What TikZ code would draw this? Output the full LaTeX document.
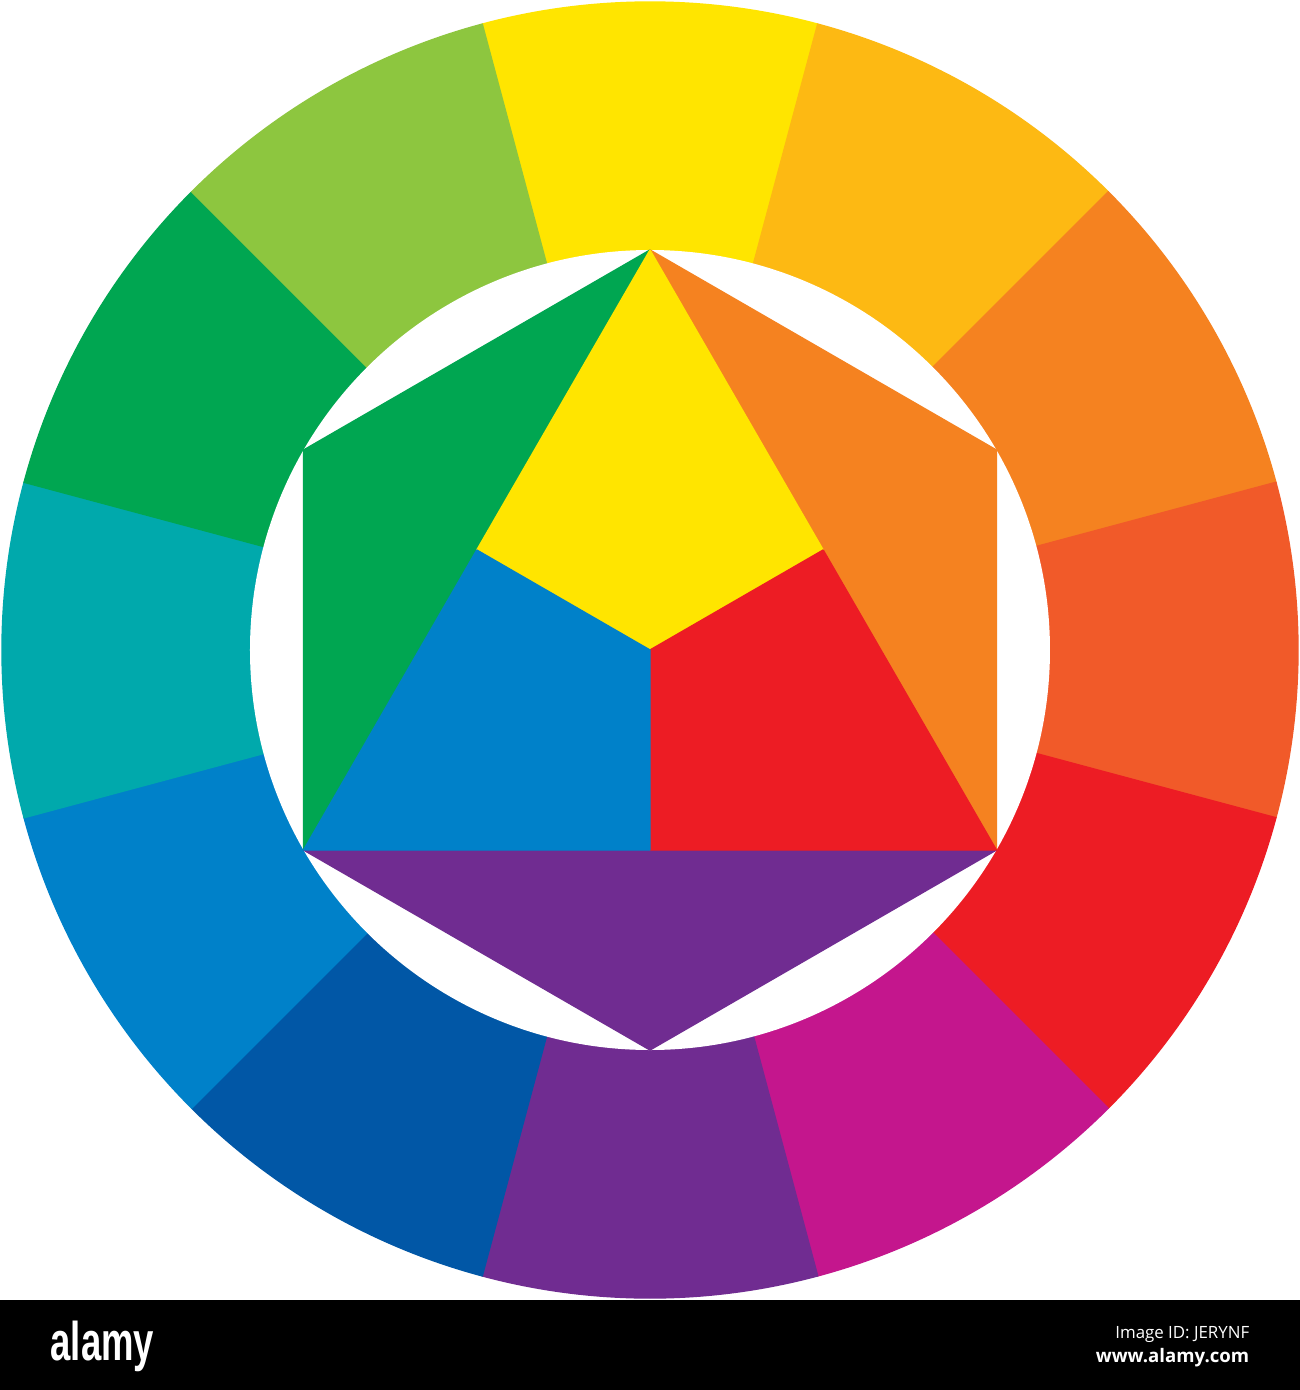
\documentclass[tikz,border=0pt]{standalone}
\usepackage{fontspec}
\setsansfont{Open Sans}
\newfontfamily\logofont{Liberation Sans}
\usepackage{xcolor}
\usetikzlibrary{calc}

\definecolor{cyel}{HTML}{FFE500}
\definecolor{cyelor}{HTML}{FDB913}
\definecolor{cora}{HTML}{F58220}
\definecolor{credor}{HTML}{F15A29}
\definecolor{cred}{HTML}{ED1C24}
\definecolor{credvi}{HTML}{C4168D}
\definecolor{cvio}{HTML}{702C91}
\definecolor{cbluvi}{HTML}{0157A6}
\definecolor{cblu}{HTML}{0081C9}
\definecolor{cblugr}{HTML}{00A9AC}
\definecolor{cgre}{HTML}{00A651}
\definecolor{cyelgr}{HTML}{8DC63F}

\begin{document}
\begin{tikzpicture}[
  face/.style={fill=#1,draw=#1,line width=0.4pt,line join=round},
  tag/.style={text=white,inner sep=0pt}
  ]
  \useasboundingbox (-6.5,-7.4) rectangle (6.5,6.5);
  \fill[white] (-6.5,-7.4) rectangle (6.5,6.5);

  % outer ring, twelve hues
  \foreach \c [count=\i from 0] in {cyel,cyelor,cora,credor,cred,credvi,cvio,cbluvi,cblu,cblugr,cgre,cyelgr} {
    \pgfmathsetmacro{\a}{105-30*\i}
    \pgfmathsetmacro{\b}{75-30*\i}
    \draw[face=\c] (0,0) -- (\a:6.48) arc[start angle=\a, end angle=\b, radius=6.48] -- cycle;
  }
  \fill[white] (0,0) circle (4);

  % hexagon and triangle
  \coordinate (top) at (90:4);
  \coordinate (ur)  at (30:4);
  \coordinate (lr)  at (-30:4);
  \coordinate (bot) at (-90:4);
  \coordinate (ll)  at (210:4);
  \coordinate (ul)  at (150:4);
  \coordinate (mid) at (0,0);
  \coordinate (ml)  at ($(top)!0.5!(ll)$);
  \coordinate (mr)  at ($(top)!0.5!(lr)$);
  \coordinate (mb)  at ($(ll)!0.5!(lr)$);

  \draw[face=cgre] (top) -- (ul) -- (ll) -- cycle;
  \draw[face=cora] (top) -- (ur) -- (lr) -- cycle;
  \draw[face=cvio] (ll) -- (lr) -- (bot) -- cycle;

  \draw[face=cyel] (top) -- (mr) -- (mid) -- (ml) -- cycle;
  \draw[face=cred] (mr) -- (lr) -- (mb) -- (mid) -- cycle;
  \draw[face=cblu] (ml) -- (mid) -- (mb) -- (ll) -- cycle;

  % bottom bar
  \fill[black] (-6.5,-6.5) rectangle (6.5,-7.4);
  \node[tag,anchor=base west] (logo) at (-6.0,-7.1)
    {\scalebox{0.67}[1]{\logofont\bfseries\fontsize{15.5}{16}\selectfont alamy}};
  \node[tag,anchor=base east] (imgid) at (6.0,-6.88)
    {\sffamily\fontsize{4.8}{5}\selectfont Image ID: JERYNF};
  \node[tag,anchor=base east] (site) at (6.0,-7.12)
    {\sffamily\bfseries\fontsize{5.3}{6}\selectfont www.alamy.com};
\end{tikzpicture}
\end{document}
